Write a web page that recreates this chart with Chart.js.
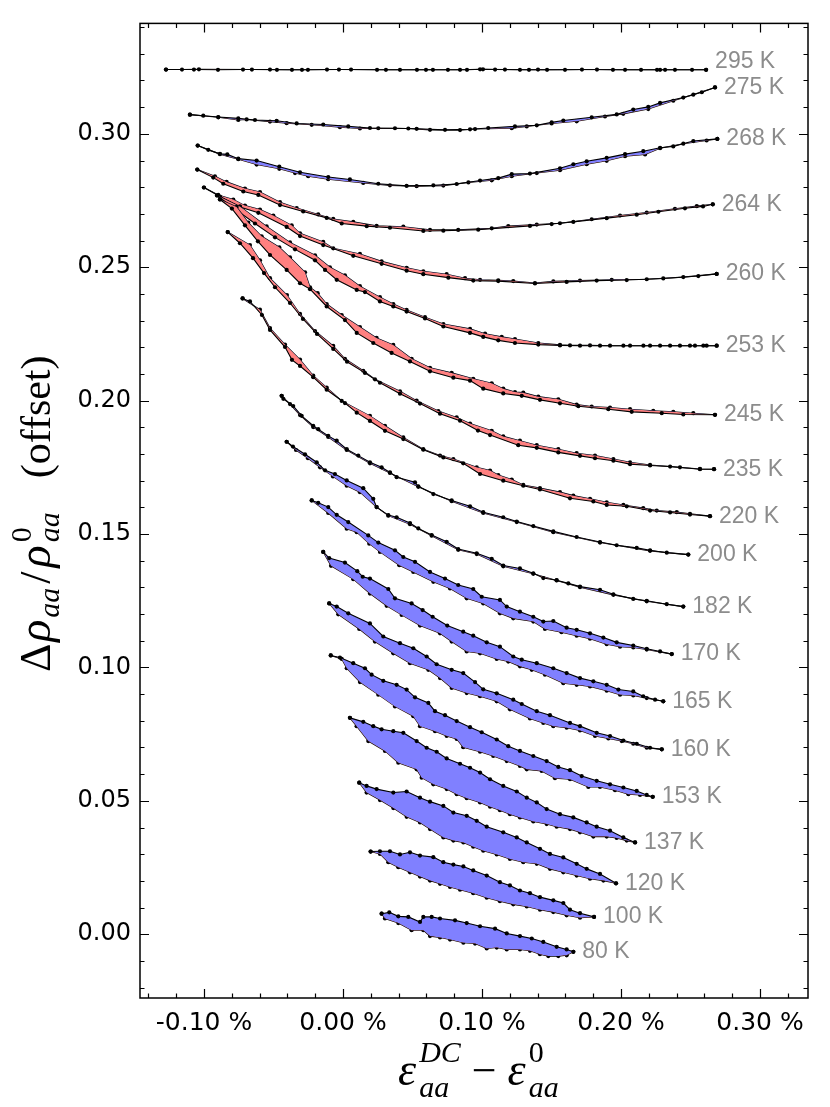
<!DOCTYPE html>
<html>
<head>
<meta charset="utf-8">
<script src="https://cdn.jsdelivr.net/npm/chart.js@4.4.0/dist/chart.umd.min.js"></script>
<style>
  html, body { margin: 0; padding: 0; background: #fff; }
  canvas { display: block; }
</style>
</head>
<body>
<canvas id="chart" width="830" height="1107"></canvas>
<script>
// strain (%) vs offset resistivity change, one hysteresis loop per temperature.
// "a" is one sweep direction, "b" the other; fill is blue where a > b, red where a < b.

const xTickValues = [-0.1, 0, 0.1, 0.2, 0.3];
const yTickValues = [0, 0.05, 0.1, 0.15, 0.2, 0.25, 0.3];

const a80 = [[0.0278,0.0077],[0.0333,0.0082],[0.0398,0.0067],[0.0470,0.0065],[0.0554,0.0046],[0.0578,0.0065],[0.0638,0.0065],[0.0698,0.0059],[0.0806,0.0052],[0.0890,0.0042],[0.0986,0.0030],[0.1094,0.0021],[0.1178,0.0003],[0.1273,-0.0007],[0.1358,-0.0016],[0.1441,-0.0029],[0.1537,-0.0047],[0.1609,-0.0057],[0.1657,-0.0066]];
const b80 = [[0.0278,0.0077],[0.0302,0.0059],[0.0398,0.0042],[0.0494,0.0015],[0.0578,0.0015],[0.0626,-0.0007],[0.0698,-0.0012],[0.0770,-0.0020],[0.0866,-0.0032],[0.0950,-0.0035],[0.1034,-0.0053],[0.1106,-0.0050],[0.1178,-0.0057],[0.1273,-0.0057],[0.1345,-0.0062],[0.1417,-0.0075],[0.1477,-0.0082],[0.1549,-0.0082],[0.1609,-0.0079],[0.1657,-0.0066]];

const a100 = [[0.0199,0.0310],[0.0266,0.0311],[0.0338,0.0311],[0.0410,0.0299],[0.0482,0.0307],[0.0554,0.0295],[0.0650,0.0289],[0.0722,0.0270],[0.0794,0.0261],[0.0866,0.0254],[0.0937,0.0239],[0.1034,0.0220],[0.1129,0.0195],[0.1201,0.0183],[0.1273,0.0164],[0.1345,0.0154],[0.1417,0.0139],[0.1513,0.0127],[0.1585,0.0117],[0.1633,0.0092],[0.1705,0.0079],[0.1806,0.0065]];
const b100 = [[0.0199,0.0310],[0.0266,0.0301],[0.0326,0.0270],[0.0398,0.0251],[0.0482,0.0232],[0.0554,0.0216],[0.0626,0.0201],[0.0698,0.0189],[0.0770,0.0177],[0.0842,0.0167],[0.0937,0.0154],[0.1034,0.0137],[0.1129,0.0124],[0.1225,0.0112],[0.1322,0.0104],[0.1417,0.0092],[0.1513,0.0083],[0.1609,0.0071],[0.1705,0.0062],[0.1806,0.0065]];

const a120 = [[0.0117,0.0568],[0.0170,0.0556],[0.0242,0.0544],[0.0362,0.0531],[0.0458,0.0535],[0.0554,0.0512],[0.0626,0.0497],[0.0722,0.0481],[0.0794,0.0456],[0.0890,0.0444],[0.0962,0.0425],[0.1034,0.0403],[0.1153,0.0382],[0.1250,0.0363],[0.1322,0.0344],[0.1417,0.0320],[0.1489,0.0301],[0.1585,0.0288],[0.1681,0.0264],[0.1753,0.0245],[0.1849,0.0226],[0.1964,0.0191]];
const b120 = [[0.0117,0.0568],[0.0170,0.0531],[0.0266,0.0503],[0.0362,0.0473],[0.0458,0.0440],[0.0554,0.0419],[0.0626,0.0394],[0.0722,0.0363],[0.0794,0.0351],[0.0866,0.0344],[0.0937,0.0328],[0.1009,0.0313],[0.1106,0.0299],[0.1201,0.0282],[0.1297,0.0270],[0.1394,0.0264],[0.1489,0.0245],[0.1585,0.0232],[0.1681,0.0220],[0.1777,0.0208],[0.1873,0.0201],[0.1964,0.0191]];

const a137 = [[0.0050,0.0811],[0.0146,0.0796],[0.0218,0.0780],[0.0278,0.0768],[0.0362,0.0761],[0.0434,0.0755],[0.0530,0.0724],[0.0602,0.0699],[0.0674,0.0684],[0.0746,0.0659],[0.0842,0.0639],[0.0914,0.0624],[0.0986,0.0606],[0.1058,0.0581],[0.1153,0.0556],[0.1250,0.0535],[0.1322,0.0512],[0.1394,0.0494],[0.1465,0.0469],[0.1561,0.0450],[0.1657,0.0438],[0.1753,0.0419],[0.1825,0.0403],[0.1921,0.0388],[0.2017,0.0363],[0.2101,0.0344]];
const b137 = [[0.0050,0.0811],[0.0098,0.0780],[0.0182,0.0724],[0.0302,0.0687],[0.0398,0.0643],[0.0530,0.0618],[0.0566,0.0587],[0.0650,0.0562],[0.0746,0.0544],[0.0818,0.0525],[0.0890,0.0510],[0.0986,0.0494],[0.1058,0.0478],[0.1129,0.0465],[0.1201,0.0450],[0.1273,0.0438],[0.1369,0.0423],[0.1465,0.0413],[0.1537,0.0403],[0.1633,0.0394],[0.1705,0.0382],[0.1801,0.0366],[0.1897,0.0366],[0.1969,0.0361],[0.2041,0.0351],[0.2101,0.0344]];

const a153 = [[-0.0088,0.1045],[-0.0022,0.1037],[0.0074,0.1016],[0.0158,0.0997],[0.0206,0.0973],[0.0290,0.0950],[0.0386,0.0935],[0.0458,0.0917],[0.0518,0.0888],[0.0614,0.0867],[0.0662,0.0836],[0.0734,0.0821],[0.0818,0.0799],[0.0914,0.0776],[0.0998,0.0757],[0.1106,0.0730],[0.1189,0.0705],[0.1273,0.0687],[0.1369,0.0668],[0.1465,0.0649],[0.1549,0.0627],[0.1633,0.0615],[0.1717,0.0593],[0.1825,0.0575],[0.1921,0.0562],[0.2017,0.0550],[0.2113,0.0537],[0.2185,0.0522],[0.2228,0.0515]];
const b153 = [[-0.0088,0.1045],[-0.0009,0.1032],[0.0027,0.0997],[0.0122,0.0945],[0.0254,0.0898],[0.0374,0.0854],[0.0506,0.0817],[0.0554,0.0780],[0.0662,0.0761],[0.0746,0.0743],[0.0818,0.0732],[0.0865,0.0701],[0.0986,0.0684],[0.1081,0.0668],[0.1178,0.0649],[0.1273,0.0631],[0.1322,0.0618],[0.1429,0.0612],[0.1525,0.0585],[0.1633,0.0581],[0.1765,0.0552],[0.1849,0.0552],[0.1957,0.0540],[0.2053,0.0525],[0.2137,0.0522],[0.2228,0.0515]];

const a160 = [[-0.0099,0.1240],[-0.0045,0.1228],[0.0038,0.1203],[0.0194,0.1165],[0.0290,0.1116],[0.0410,0.1091],[0.0506,0.1072],[0.0602,0.1041],[0.0674,0.1012],[0.0782,0.0991],[0.0865,0.0979],[0.0950,0.0945],[0.1009,0.0918],[0.1106,0.0903],[0.1225,0.0879],[0.1286,0.0863],[0.1394,0.0836],[0.1489,0.0821],[0.1633,0.0792],[0.1705,0.0780],[0.1825,0.0755],[0.1921,0.0743],[0.2017,0.0726],[0.2113,0.0714],[0.2209,0.0699],[0.2293,0.0693]];
const b160 = [[-0.0099,0.1240],[-0.0034,0.1199],[0.0117,0.1144],[0.0230,0.1097],[0.0362,0.1053],[0.0482,0.1016],[0.0614,0.0991],[0.0698,0.0960],[0.0782,0.0923],[0.0890,0.0904],[0.0986,0.0892],[0.1106,0.0873],[0.1201,0.0843],[0.1345,0.0809],[0.1441,0.0792],[0.1513,0.0780],[0.1609,0.0774],[0.1705,0.0764],[0.1813,0.0743],[0.1909,0.0734],[0.2005,0.0724],[0.2088,0.0714],[0.2185,0.0699],[0.2293,0.0693]];

const a165 = [[-0.0142,0.1433],[-0.0099,0.1410],[0.0014,0.1393],[0.0103,0.1361],[0.0142,0.1340],[0.0194,0.1333],[0.0326,0.1294],[0.0374,0.1259],[0.0494,0.1240],[0.0573,0.1215],[0.0645,0.1190],[0.0750,0.1157],[0.0865,0.1134],[0.0937,0.1119],[0.1034,0.1094],[0.1129,0.1078],[0.1225,0.1041],[0.1286,0.1029],[0.1394,0.1016],[0.1513,0.0997],[0.1609,0.0979],[0.1705,0.0960],[0.1801,0.0948],[0.1897,0.0935],[0.1981,0.0917],[0.2088,0.0910],[0.2160,0.0892],[0.2245,0.0879],[0.2304,0.0873]];
const b165 = [[-0.0142,0.1433],[-0.0086,0.1381],[0.0074,0.1331],[0.0194,0.1277],[0.0314,0.1231],[0.0422,0.1197],[0.0554,0.1157],[0.0698,0.1128],[0.0782,0.1097],[0.0890,0.1060],[0.0986,0.1053],[0.1106,0.1032],[0.1189,0.1022],[0.1273,0.1004],[0.1358,0.0991],[0.1453,0.0973],[0.1585,0.0941],[0.1681,0.0935],[0.1777,0.0929],[0.1897,0.0913],[0.1993,0.0898],[0.2088,0.0895],[0.2185,0.0885],[0.2304,0.0873]];

const a170 = [[-0.0225,0.1626],[-0.0178,0.1617],[-0.0106,0.1601],[-0.0045,0.1572],[0.0038,0.1545],[0.0182,0.1495],[0.0254,0.1468],[0.0374,0.1439],[0.0434,0.1414],[0.0518,0.1396],[0.0626,0.1358],[0.0734,0.1333],[0.0829,0.1309],[0.0937,0.1294],[0.0998,0.1265],[0.1129,0.1253],[0.1178,0.1228],[0.1273,0.1209],[0.1369,0.1190],[0.1441,0.1172],[0.1513,0.1174],[0.1609,0.1149],[0.1681,0.1141],[0.1777,0.1128],[0.1873,0.1112],[0.1969,0.1094],[0.2088,0.1082],[0.2185,0.1070],[0.2281,0.1060],[0.2365,0.1050]];
const b170 = [[-0.0225,0.1626],[-0.0106,0.1579],[0.0027,0.1520],[0.0099,0.1507],[0.0189,0.1464],[0.0266,0.1433],[0.0405,0.1383],[0.0506,0.1358],[0.0650,0.1321],[0.0770,0.1296],[0.0890,0.1259],[0.1009,0.1240],[0.1129,0.1203],[0.1225,0.1184],[0.1369,0.1172],[0.1453,0.1144],[0.1572,0.1132],[0.1681,0.1119],[0.1777,0.1108],[0.1897,0.1087],[0.1993,0.1078],[0.2088,0.1075],[0.2185,0.1067],[0.2365,0.1050]];

const a182 = [[-0.0405,0.1846],[-0.0360,0.1828],[-0.0273,0.1799],[-0.0189,0.1769],[-0.0129,0.1739],[-0.0058,0.1725],[0.0027,0.1701],[0.0146,0.1672],[0.0218,0.1632],[0.0242,0.1601],[0.0326,0.1571],[0.0386,0.1563],[0.0482,0.1541],[0.0542,0.1521],[0.0638,0.1496],[0.0746,0.1471],[0.0829,0.1444],[0.0962,0.1428],[0.1070,0.1407],[0.1153,0.1382],[0.1273,0.1371],[0.1369,0.1353],[0.1441,0.1335],[0.1537,0.1327],[0.1621,0.1315],[0.1705,0.1303],[0.1849,0.1291],[0.1945,0.1274],[0.2088,0.1257],[0.2185,0.1250],[0.2329,0.1237],[0.2448,0.1228]];
const b182 = [[-0.0405,0.1846],[-0.0338,0.1815],[-0.0252,0.1784],[-0.0165,0.1750],[-0.0072,0.1716],[0.0027,0.1681],[0.0122,0.1657],[0.0242,0.1601],[0.0326,0.1569],[0.0482,0.1537],[0.0638,0.1494],[0.0829,0.1441],[0.0962,0.1425],[0.1153,0.1379],[0.1369,0.1351],[0.1537,0.1326],[0.1705,0.1301],[0.1945,0.1272],[0.2185,0.1248],[0.2448,0.1228]];

const a200 = [[-0.0441,0.2018],[-0.0429,0.2007],[-0.0358,0.1980],[-0.0297,0.1943],[-0.0214,0.1906],[-0.0178,0.1893],[-0.0106,0.1868],[-0.0045,0.1850],[0.0027,0.1818],[0.0110,0.1794],[0.0194,0.1769],[0.0278,0.1750],[0.0338,0.1731],[0.0386,0.1713],[0.0518,0.1694],[0.0542,0.1679],[0.0650,0.1650],[0.0782,0.1626],[0.0914,0.1604],[0.1009,0.1582],[0.1153,0.1563],[0.1250,0.1547],[0.1369,0.1530],[0.1513,0.1510],[0.1681,0.1489],[0.1849,0.1470],[0.1969,0.1458],[0.2113,0.1448],[0.2209,0.1439],[0.2329,0.1430],[0.2484,0.1423]];
const b200 = [[-0.0441,0.2018],[-0.0381,0.1987],[-0.0309,0.1946],[-0.0214,0.1901],[-0.0106,0.1864],[0.0027,0.1815],[0.0194,0.1765],[0.0338,0.1729],[0.0542,0.1677],[0.0782,0.1623],[0.1009,0.1579],[0.1250,0.1545],[0.1513,0.1507],[0.1849,0.1468],[0.2209,0.1437],[0.2484,0.1423]];

const a220 = [[-0.0722,0.2383],[-0.0669,0.2372],[-0.0583,0.2321],[-0.0525,0.2265],[-0.0417,0.2201],[-0.0367,0.2153],[-0.0309,0.2130],[-0.0214,0.2088],[-0.0117,0.2041],[0.0014,0.1991],[0.0099,0.1955],[0.0194,0.1924],[0.0302,0.1887],[0.0434,0.1856],[0.0578,0.1816],[0.0722,0.1787],[0.0865,0.1765],[0.0986,0.1725],[0.1153,0.1700],[0.1297,0.1681],[0.1417,0.1667],[0.1633,0.1634],[0.1801,0.1622],[0.1897,0.1609],[0.2041,0.1604],[0.2209,0.1588],[0.2353,0.1581],[0.2496,0.1573],[0.2640,0.1567]];
const b220 = [[-0.0722,0.2383],[-0.0597,0.2341],[-0.0525,0.2272],[-0.0417,0.2210],[-0.0309,0.2154],[-0.0214,0.2094],[-0.0117,0.2049],[-0.0009,0.1999],[0.0194,0.1943],[0.0302,0.1906],[0.0434,0.1862],[0.0578,0.1818],[0.0698,0.1794],[0.0794,0.1781],[0.0962,0.1750],[0.1058,0.1738],[0.1117,0.1721],[0.1214,0.1704],[0.1297,0.1684],[0.1417,0.1672],[0.1561,0.1657],[0.1657,0.1644],[0.1777,0.1632],[0.1897,0.1619],[0.2017,0.1609],[0.2160,0.1597],[0.2257,0.1588],[0.2401,0.1582],[0.2496,0.1576],[0.2640,0.1567]];

const a235 = [[-0.0829,0.2632],[-0.0741,0.2590],[-0.0647,0.2534],[-0.0568,0.2478],[-0.0489,0.2425],[-0.0381,0.2366],[-0.0288,0.2306],[-0.0187,0.2250],[-0.0070,0.2194],[0.0029,0.2146],[0.0158,0.2104],[0.0266,0.2067],[0.0410,0.2026],[0.0554,0.1989],[0.0698,0.1951],[0.0842,0.1925],[0.0971,0.1888],[0.1058,0.1871],[0.1261,0.1833],[0.1394,0.1823],[0.1549,0.1806],[0.1705,0.1793],[0.1813,0.1784],[0.1945,0.1775],[0.2065,0.1762],[0.2209,0.1757],[0.2353,0.1753],[0.2568,0.1743],[0.2669,0.1743]];
const b235 = [[-0.0829,0.2632],[-0.0669,0.2583],[-0.0597,0.2526],[-0.0525,0.2459],[-0.0403,0.2396],[-0.0309,0.2325],[-0.0201,0.2261],[-0.0070,0.2205],[0.0014,0.2157],[0.0146,0.2112],[0.0230,0.2080],[0.0410,0.2035],[0.0530,0.2000],[0.0686,0.1961],[0.0818,0.1937],[0.0914,0.1914],[0.1070,0.1887],[0.1153,0.1866],[0.1273,0.1850],[0.1394,0.1833],[0.1549,0.1818],[0.1681,0.1803],[0.1813,0.1794],[0.1945,0.1781],[0.2065,0.1769],[0.2209,0.1759],[0.2424,0.1750],[0.2568,0.1744],[0.2669,0.1743]];

const a245 = [[-0.0885,0.2754],[-0.0799,0.2720],[-0.0705,0.2657],[-0.0612,0.2597],[-0.0525,0.2546],[-0.0405,0.2490],[-0.0309,0.2440],[-0.0237,0.2418],[-0.0117,0.2353],[0.0014,0.2302],[0.0099,0.2254],[0.0218,0.2216],[0.0350,0.2179],[0.0482,0.2147],[0.0626,0.2110],[0.0794,0.2086],[0.0914,0.2075],[0.1009,0.2045],[0.1153,0.2027],[0.1286,0.2018],[0.1417,0.2003],[0.1561,0.1990],[0.1693,0.1979],[0.1909,0.1968],[0.2077,0.1958],[0.2293,0.1953],[0.2448,0.1948],[0.2676,0.1947]];
const b245 = [[-0.0885,0.2754],[-0.0765,0.2726],[-0.0681,0.2667],[-0.0585,0.2616],[-0.0458,0.2575],[-0.0381,0.2537],[-0.0273,0.2481],[-0.0237,0.2425],[-0.0182,0.2403],[-0.0117,0.2362],[-0.0009,0.2321],[0.0122,0.2276],[0.0242,0.2235],[0.0362,0.2209],[0.0494,0.2157],[0.0626,0.2123],[0.0782,0.2104],[0.0937,0.2082],[0.1070,0.2065],[0.1153,0.2045],[0.1237,0.2032],[0.1297,0.2030],[0.1405,0.2015],[0.1549,0.2005],[0.1681,0.1985],[0.1789,0.1978],[0.1921,0.1974],[0.2065,0.1968],[0.2232,0.1962],[0.2376,0.1958],[0.2520,0.1953],[0.2676,0.1947]];

const a253 = [[-0.0906,0.2769],[-0.0770,0.2716],[-0.0633,0.2664],[-0.0489,0.2612],[-0.0345,0.2567],[-0.0201,0.2526],[-0.0129,0.2490],[-0.0045,0.2453],[0.0099,0.2415],[0.0158,0.2407],[0.0266,0.2372],[0.0362,0.2353],[0.0458,0.2334],[0.0590,0.2308],[0.0722,0.2278],[0.0914,0.2254],[0.1009,0.2239],[0.1117,0.2226],[0.1237,0.2216],[0.1405,0.2210],[0.1561,0.2207],[0.1705,0.2206],[0.1849,0.2206],[0.2017,0.2206],[0.2209,0.2206],[0.2353,0.2206],[0.2496,0.2206],[0.2592,0.2206],[0.2688,0.2206]];
const b253 = [[-0.0906,0.2769],[-0.0741,0.2728],[-0.0549,0.2653],[-0.0381,0.2593],[-0.0201,0.2545],[-0.0094,0.2500],[0.0014,0.2470],[0.0122,0.2429],[0.0266,0.2388],[0.0362,0.2362],[0.0458,0.2340],[0.0590,0.2313],[0.0722,0.2287],[0.0914,0.2269],[0.1022,0.2251],[0.1142,0.2239],[0.1237,0.2231],[0.1405,0.2216],[0.1561,0.2209],[0.1633,0.2207],[0.1777,0.2207],[0.1921,0.2206],[0.2065,0.2206],[0.2161,0.2206],[0.2281,0.2206],[0.2424,0.2206],[0.2532,0.2206],[0.2616,0.2206],[0.2688,0.2206]];

const a260 = [[-0.1000,0.2799],[-0.0885,0.2765],[-0.0741,0.2726],[-0.0609,0.2704],[-0.0405,0.2651],[-0.0309,0.2617],[-0.0142,0.2583],[0.0074,0.2543],[0.0278,0.2513],[0.0458,0.2487],[0.0578,0.2474],[0.0758,0.2461],[0.0937,0.2450],[0.1117,0.2448],[0.1381,0.2439],[0.1609,0.2445],[0.1825,0.2450],[0.2041,0.2452],[0.2304,0.2458],[0.2556,0.2467],[0.2688,0.2475]];
const b260 = [[-0.1000,0.2799],[-0.0897,0.2771],[-0.0789,0.2754],[-0.0705,0.2731],[-0.0597,0.2716],[-0.0501,0.2694],[-0.0369,0.2657],[-0.0309,0.2627],[-0.0142,0.2595],[-0.0070,0.2571],[0.0122,0.2550],[0.0278,0.2522],[0.0458,0.2498],[0.0578,0.2485],[0.0746,0.2474],[0.0878,0.2459],[0.0986,0.2453],[0.1117,0.2451],[0.1225,0.2448],[0.1381,0.2441],[0.1513,0.2447],[0.1705,0.2450],[0.1933,0.2453],[0.2185,0.2455],[0.2448,0.2463],[0.2688,0.2475]];

const a264 = [[-0.1048,0.2866],[-0.0933,0.2836],[-0.0861,0.2813],[-0.0717,0.2784],[-0.0609,0.2771],[-0.0453,0.2733],[-0.0286,0.2709],[-0.0117,0.2685],[-0.0009,0.2664],[0.0171,0.2654],[0.0338,0.2648],[0.0578,0.2636],[0.0722,0.2637],[0.0973,0.2641],[0.1345,0.2655],[0.1501,0.2662],[0.1657,0.2670],[0.1897,0.2684],[0.2113,0.2697],[0.2269,0.2708],[0.2460,0.2721],[0.2590,0.2728],[0.2660,0.2736]];
const b264 = [[-0.1048,0.2866],[-0.0921,0.2841],[-0.0837,0.2820],[-0.0705,0.2795],[-0.0597,0.2782],[-0.0453,0.2744],[-0.0333,0.2722],[-0.0178,0.2698],[-0.0070,0.2681],[0.0074,0.2670],[0.0242,0.2655],[0.0434,0.2652],[0.0626,0.2640],[0.0829,0.2640],[0.1070,0.2646],[0.1189,0.2654],[0.1394,0.2660],[0.1561,0.2665],[0.1789,0.2680],[0.1993,0.2694],[0.2185,0.2705],[0.2388,0.2719],[0.2545,0.2729],[0.2660,0.2736]];

const a268 = [[-0.1045,0.2956],[-0.0969,0.2940],[-0.0885,0.2925],[-0.0832,0.2923],[-0.0753,0.2907],[-0.0621,0.2900],[-0.0458,0.2877],[-0.0309,0.2856],[-0.0106,0.2838],[0.0050,0.2829],[0.0254,0.2813],[0.0458,0.2805],[0.0650,0.2807],[0.0818,0.2812],[0.0986,0.2825],[0.1117,0.2834],[0.1214,0.2849],[0.1345,0.2851],[0.1561,0.2871],[0.1657,0.2886],[0.1753,0.2897],[0.1897,0.2910],[0.2029,0.2924],[0.2160,0.2935],[0.2281,0.2948],[0.2376,0.2953],[0.2520,0.2973],[0.2693,0.2981]];
const b268 = [[-0.1045,0.2956],[-0.0885,0.2924],[-0.0753,0.2905],[-0.0621,0.2885],[-0.0458,0.2869],[-0.0345,0.2853],[-0.0250,0.2841],[-0.0106,0.2830],[0.0146,0.2816],[0.0338,0.2807],[0.0530,0.2804],[0.0722,0.2806],[0.0902,0.2818],[0.1070,0.2826],[0.1214,0.2841],[0.1394,0.2853],[0.1561,0.2864],[0.1753,0.2886],[0.1897,0.2899],[0.2029,0.2916],[0.2173,0.2923],[0.2281,0.2946],[0.2448,0.2963],[0.2616,0.2975],[0.2693,0.2981]];

const a275 = [[-0.1101,0.3072],[-0.1005,0.3068],[-0.0897,0.3063],[-0.0753,0.3058],[-0.0633,0.3052],[-0.0477,0.3049],[-0.0333,0.3039],[-0.0142,0.3035],[0.0038,0.3028],[0.0194,0.3022],[0.0374,0.3021],[0.0530,0.3019],[0.0734,0.3015],[0.0914,0.3017],[0.1045,0.3022],[0.1237,0.3028],[0.1394,0.3032],[0.1501,0.3043],[0.1585,0.3050],[0.1789,0.3062],[0.1969,0.3073],[0.2088,0.3091],[0.2196,0.3101],[0.2281,0.3116],[0.2448,0.3136],[0.2581,0.3156],[0.2676,0.3174]];
const b275 = [[-0.1101,0.3072],[-0.0897,0.3062],[-0.0753,0.3052],[-0.0693,0.3054],[-0.0525,0.3046],[-0.0405,0.3040],[-0.0225,0.3034],[-0.0022,0.3025],[0.0122,0.3020],[0.0254,0.3021],[0.0470,0.3020],[0.0626,0.3015],[0.0842,0.3014],[0.0950,0.3018],[0.1214,0.3021],[0.1322,0.3028],[0.1501,0.3039],[0.1681,0.3047],[0.1885,0.3065],[0.2016,0.3075],[0.2196,0.3093],[0.2376,0.3124],[0.2520,0.3147],[0.2676,0.3174]];

const a295 = [[-0.1273,0.3241],[-0.1072,0.3241],[-0.0899,0.3240],[-0.0719,0.3241],[-0.0525,0.3241],[-0.0367,0.3240],[-0.0252,0.3240],[-0.0029,0.3241],[0.0245,0.3240],[0.0410,0.3240],[0.0597,0.3240],[0.0755,0.3240],[0.0892,0.3240],[0.1007,0.3242],[0.1165,0.3241],[0.1338,0.3240],[0.1468,0.3240],[0.1719,0.3241],[0.1942,0.3240],[0.2144,0.3240],[0.2281,0.3240],[0.2388,0.3240],[0.2612,0.3240]];
const b295 = [[-0.1273,0.3241],[-0.1158,0.3241],[-0.1036,0.3242],[-0.0655,0.3241],[-0.0475,0.3240],[-0.0295,0.3240],[-0.0115,0.3241],[0.0058,0.3241],[0.0309,0.3240],[0.0532,0.3240],[0.0647,0.3240],[0.0842,0.3240],[0.0986,0.3242],[0.1094,0.3241],[0.1273,0.3240],[0.1403,0.3241],[0.1597,0.3240],[0.1827,0.3241],[0.2029,0.3240],[0.2259,0.3240],[0.2317,0.3240],[0.2511,0.3240],[0.2612,0.3240]];

const loops = [
  [80, a80, b80], [100, a100, b100], [120, a120, b120], [137, a137, b137],
  [153, a153, b153], [160, a160, b160], [165, a165, b165], [170, a170, b170],
  [182, a182, b182], [200, a200, b200], [220, a220, b220], [235, a235, b235],
  [245, a245, b245], [253, a253, b253], [260, a260, b260], [264, a264, b264],
  [268, a268, b268], [275, a275, b275], [295, a295, b295]
];

const BLUE = '#8080ff';
const RED = '#ff8080';
const X_MIN = -0.146, X_MAX = 0.3345;
const Y_MIN = -0.0239, Y_MAX = 0.3414;

function lineSet(label, pts, fill) {
  return {
    label: label,
    data: pts.map(p => ({ x: p[0], y: p[1] })),
    borderColor: '#000',
    borderWidth: 1.1,
    pointRadius: 2.1,
    pointBackgroundColor: '#000',
    pointBorderWidth: 0,
    tension: 0,
    fill: fill
  };
}

const datasets = [];
loops.forEach(([t, a, b]) => {
  datasets.push(lineSet(t + ' K a', a, { target: '+1', above: BLUE, below: RED }));
  datasets.push(lineSet(t + ' K b', b, false));
});

// little helper for the math-ish axis titles, drawn left to right from x0
function runWidth(ctx, r) {
  if (r.gap) return r.gap;
  const parts = r.stack || [r];
  let w = 0;
  parts.forEach(p => { ctx.font = p.font; w = Math.max(w, ctx.measureText(p.txt).width); });
  return w;
}
function drawRuns(ctx, runs, x0, base) {
  let x = x0;
  ctx.textAlign = 'left';
  ctx.textBaseline = 'alphabetic';
  runs.forEach(r => {
    const w = runWidth(ctx, r);
    if (!r.gap) {
      (r.stack || [r]).forEach(p => {
        ctx.font = p.font;
        ctx.fillText(p.txt, x, base + (p.dy || 0));
      });
    }
    x += w + (r.pad || 0);
  });
}

const M_BIG = "44px 'Liberation Serif'";
const M_BIG_IT = "italic 46px 'Liberation Serif'";
const M_SM = "30px 'Liberation Serif'";
const M_SM_IT = "italic 30px 'Liberation Serif'";
const TXT = "42px 'Liberation Serif'";

const decorPlugin = {
  id: 'decor',
  afterDraw(chart) {
    const ctx = chart.ctx;
    const a = chart.chartArea;
    const xs = chart.scales.x, ys = chart.scales.y;
    ctx.save();
    ctx.strokeStyle = '#000';

    // inward ticks on all four sides
    ctx.lineWidth = 1.2;
    ctx.beginPath();
    for (let i = Math.ceil(X_MIN / 0.02); i * 0.02 <= X_MAX; i++) {
      const v = i * 0.02;
      const major = Math.abs(v / 0.1 - Math.round(v / 0.1)) < 1e-6;
      const len = major ? 9 : 4.5;
      const px = Math.round(xs.getPixelForValue(v)) + 0.5;
      ctx.moveTo(px, a.bottom); ctx.lineTo(px, a.bottom - len);
      ctx.moveTo(px, a.top); ctx.lineTo(px, a.top + len);
    }
    for (let i = Math.ceil(Y_MIN / 0.01); i * 0.01 <= Y_MAX; i++) {
      const v = i * 0.01;
      const major = Math.abs(v / 0.05 - Math.round(v / 0.05)) < 1e-6;
      const len = major ? 9 : 4.5;
      const py = Math.round(ys.getPixelForValue(v)) + 0.5;
      ctx.moveTo(a.left, py); ctx.lineTo(a.left + len, py);
      ctx.moveTo(a.right, py); ctx.lineTo(a.right - len, py);
    }
    ctx.stroke();

    ctx.lineWidth = 1.5;
    ctx.strokeRect(a.left, a.top, a.right - a.left, a.bottom - a.top);

    // temperature labels next to the right end of each loop
    ctx.fillStyle = '#8c8c8c';
    ctx.font = "23px 'Liberation Sans'";
    ctx.textAlign = 'left';
    ctx.textBaseline = 'middle';
    loops.forEach(([t, pts]) => {
      const last = pts[pts.length - 1];
      const dy = t === 295 ? -8 : 0;
      ctx.fillText(t + ' K', xs.getPixelForValue(last[0]) + 9, ys.getPixelForValue(last[1]) + dy);
    });

    // axis titles
    ctx.fillStyle = '#000';
    drawRuns(ctx, [
      { txt: 'ε', font: M_BIG_IT, pad: 3 },
      { stack: [{ txt: 'DC', font: M_SM_IT, dy: -23 }, { txt: 'aa', font: M_SM_IT, dy: 12 }] },
      { txt: ' − ', font: M_BIG },
      { txt: 'ε', font: M_BIG_IT, pad: 3 },
      { stack: [{ txt: '0', font: M_SM, dy: -23 }, { txt: 'aa', font: M_SM_IT, dy: 12 }] }
    ], 398, 1085);

    ctx.translate(50, 672);
    ctx.rotate(-Math.PI / 2);
    drawRuns(ctx, [
      { txt: 'Δ', font: M_BIG, pad: 2 },
      { txt: 'ρ', font: M_BIG_IT, pad: 2 },
      { txt: 'aa', font: M_SM_IT, dy: 9, pad: 4 },
      { txt: '/', font: M_BIG, pad: 4 },
      { txt: 'ρ', font: M_BIG_IT, pad: 3 },
      { stack: [{ txt: '0', font: M_SM, dy: -19 }, { txt: 'aa', font: M_SM_IT, dy: 9 }] },
      { gap: 34 },
      { txt: '(offset)', font: TXT }
    ], 0, 0);
    ctx.restore();
  }
};

new Chart(document.getElementById('chart'), {
  type: 'line',
  data: { datasets: datasets },
  options: {
    responsive: false,
    animation: false,
    devicePixelRatio: 1,
    layout: { padding: { top: 20, right: 22, left: 0, bottom: 0 } },
    plugins: { legend: { display: false }, tooltip: { enabled: false } },
    scales: {
      x: {
        type: 'linear',
        min: X_MIN,
        max: X_MAX,
        afterBuildTicks: s => { s.ticks = xTickValues.map(v => ({ value: v })); },
        afterFit: s => { s.height = 109; },
        grid: { display: false, drawTicks: false },
        border: { display: false },
        ticks: {
          padding: 10,
          color: '#000',
          maxRotation: 0,
          autoSkip: false,
          font: { family: 'DejaVu Sans', size: 25 },
          callback: v => v.toFixed(2) + ' %'
        }
      },
      y: {
        type: 'linear',
        min: Y_MIN,
        max: Y_MAX,
        afterBuildTicks: s => { s.ticks = yTickValues.map(v => ({ value: v })); },
        afterFit: s => { s.width = 140; },
        grid: { display: false, drawTicks: false },
        border: { display: false },
        ticks: {
          padding: 9,
          color: '#000',
          autoSkip: false,
          font: { family: 'DejaVu Sans', size: 24 },
          callback: v => v.toFixed(2)
        }
      }
    }
  },
  plugins: [decorPlugin]
});
</script>
</body>
</html>
